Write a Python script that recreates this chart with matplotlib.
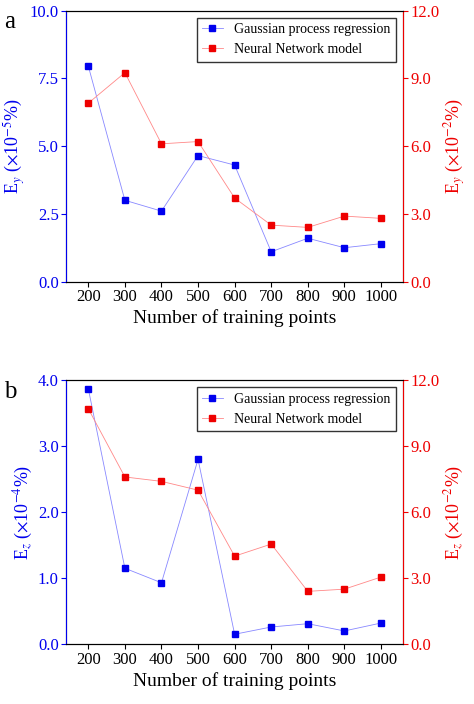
import matplotlib
matplotlib.use("Agg")
import matplotlib.pyplot as plt

plt.rcParams['font.family'] = ['Liberation Serif', 'DejaVu Serif']
plt.rcParams['mathtext.fontset'] = 'stix'

x = [200, 300, 400, 500, 600, 700, 800, 900, 1000]
gpr_a = [7.95, 3.0, 2.6, 4.65, 4.3, 1.1, 1.6, 1.25, 1.4]
nn_a = [7.9, 9.25, 6.1, 6.2, 3.7, 2.5, 2.4, 2.9, 2.8]
gpr_b = [3.87, 1.15, 0.93, 2.8, 0.15, 0.26, 0.31, 0.2, 0.32]
nn_b = [10.7, 7.6, 7.4, 7.0, 4.0, 4.55, 2.4, 2.5, 3.05]

fig = plt.figure(figsize=(4.74, 7.04), dpi=100)
blue = '#0000ee'
red = '#ee0000'

def panel(rect, gpr, nn, lmax, lticks, sub, label):
    ax = fig.add_axes(rect)
    ax2 = ax.twinx()
    l1, = ax.plot(x, gpr, '-s', color='#8888ff', lw=0.6, ms=4, mec=blue, mfc=blue,
                  label='Gaussian process regression')
    l2, = ax2.plot(x, nn, '-s', color='#ff8888', lw=0.6, ms=4, mec=red, mfc=red,
                   label='Neural Network model')
    ax.set_xlim(140, 1060)
    ax.set_xticks(x)
    ax.set_ylim(0, lmax)
    ax.set_yticks(lticks)
    ax.set_yticklabels(['%.1f' % t for t in lticks])
    ax2.set_ylim(0, 12)
    ax2.set_yticks([0, 3, 6, 9, 12])
    ax2.set_yticklabels(['0.0', '3.0', '6.0', '9.0', '12.0'])
    for a in (ax, ax2):
        a.tick_params(labelsize=12, direction='out', pad=2)
    ax.tick_params(axis='y', colors=blue)
    ax2.tick_params(axis='y', colors=red)
    ax2.spines['left'].set_color(blue)
    ax2.spines['right'].set_color(red)
    ax.set_xlabel('Number of training points', fontsize=14, labelpad=3)
    ax.set_ylabel(r'E$_{%s}$ ($\times$10$^{-%s}$%%)' % (sub[0], sub[1]), color=blue, fontsize=13, labelpad=2)
    ax2.set_ylabel(r'E$_{%s}$ ($\times$10$^{-2}$%%)' % sub[0], color=red, fontsize=13, labelpad=2)
    ax.legend(handles=[l1, l2], loc='upper right', fontsize=10, frameon=True,
              fancybox=False, edgecolor='black', handlelength=1.5)
    fig.text(0.008, rect[1] + rect[3] - 0.025, label, fontsize=18)

panel([0.14, 0.60, 0.71, 0.385], gpr_a, nn_a, 10, [0, 2.5, 5, 7.5, 10], ('y', '5'), 'a')
panel([0.14, 0.085, 0.71, 0.375], gpr_b, nn_b, 4, [0, 1, 2, 3, 4], ('z', '4'), 'b')

fig.savefig('out.png', dpi=100)
